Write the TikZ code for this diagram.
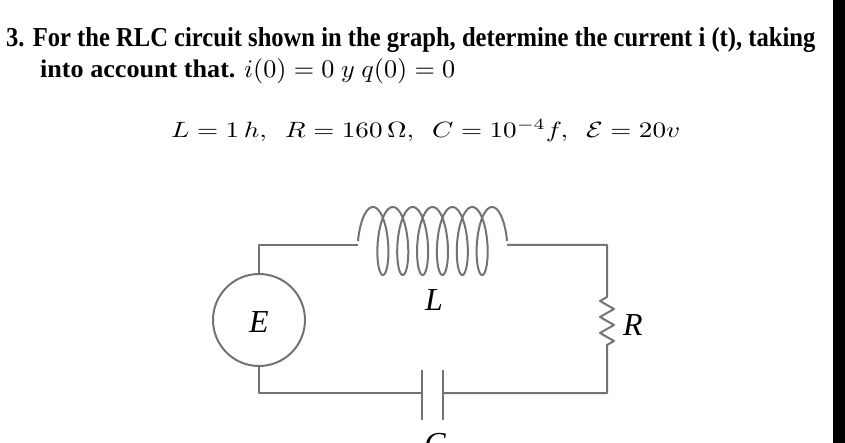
\documentclass[tikz,border=0pt]{standalone}
\usepackage{fontspec}
\setmainfont{Liberation Serif}
\usetikzlibrary{calc}
\tikzset{wire/.style={draw=gray!90!black, line width=2pt, line join=round},
  lbl/.style={font=\fontsize{32}{34}\selectfont\itshape, inner sep=0pt}}
\begin{document}
\begin{tikzpicture}[x=1pt,y=-1pt]
\useasboundingbox (0,0) rectangle (845,443);
\fill[black] (833,0) rectangle (845,443);
% text
\node[anchor=base west, inner sep=0pt] (t1) at (6,47) {\resizebox{809pt}{19pt}{\bfseries 3. For the RLC circuit shown in the graph, determine the current i (t), taking}};
\node[anchor=base west, inner sep=0pt] (t2) at (40,78) {\resizebox{415pt}{19pt}{\bfseries into account that. $\mathversion{bold}i(0)=0\ y\ q(0)=0$}};
\node[anchor=base west, inner sep=0pt] (t3) at (171,138) {\resizebox{509pt}{18pt}{$L=1\,h,\ \ R=160\,\Omega,\ \ C=10^{-4}f,\ \ \mathcal{E}=20v$}};
% components
\node[circle, wire, minimum size=92pt, inner sep=0pt] (E) at (259,320) {};
\node[lbl] (El) at (259,322) {E};
\coordinate (TL) at (259,245);
\coordinate (TR) at (607,245);
\coordinate (BL) at (259,393);
\coordinate (BR) at (607,393);
\coordinate (Li) at (358,245);
\coordinate (Lo) at (507,245);
\coordinate (Ri) at (607,297);
\coordinate (Ro) at (607,345);
\coordinate (Ca) at (422,393);
\coordinate (Cb) at (443,393);
\draw[wire] (E.north) -- (TL) -- (Li);
\draw[wire, domain=0:13*pi, samples=400, variable=\u, smooth]
  plot ({368 + 19.85*\u/(2*pi) - 10*cos(\u r)}, {241 - 34*sin(\u r)});
\draw[wire] (Lo) -- (TR) -- (Ri)
  -- ++(-7,4) -- ++(14,8) -- ++(-14,8) -- ++(14,8) -- ++(-14,8) -- ++(14,8) -- (Ro)
  -- (BR) -- (Cb);
\draw[wire] (E.south) -- (BL) -- (Ca);
\draw[wire] ($(Ca)+(0,-23)$) -- ($(Ca)+(0,27)$);
\draw[wire] ($(Cb)+(0,-23)$) -- ($(Cb)+(0,27)$);
\node[lbl] (Ll) at (434,300) {L};
\node[lbl] (Rl) at (633,325) {R};
\node[lbl, anchor=north] (Cl) at (435,433) {C};
\end{tikzpicture}
\end{document}
